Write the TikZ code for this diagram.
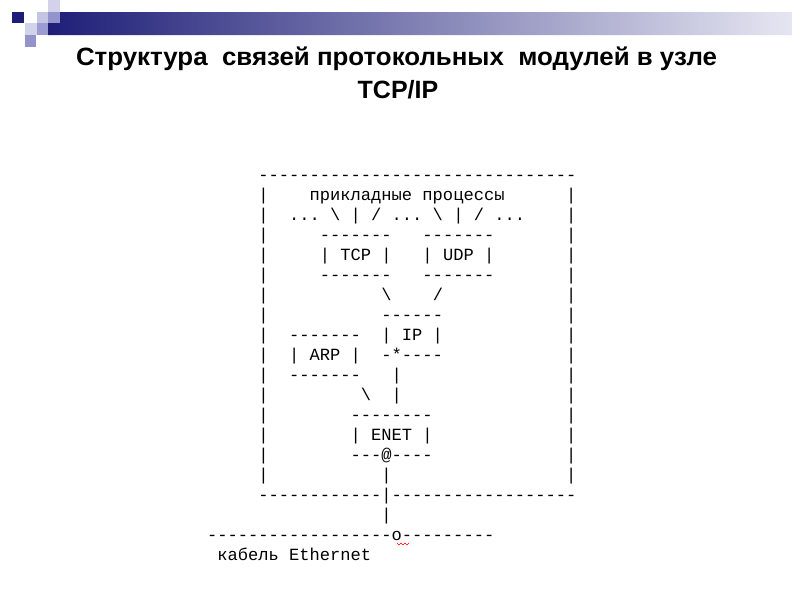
\documentclass[tikz,border=0pt]{standalone}
\usepackage{fontspec}
\usepackage{graphicx}
\setmainfont{Liberation Sans}
\setmonofont{Liberation Mono}
\definecolor{navy}{HTML}{1E1E78}
\definecolor{barM}{HTML}{5A5AA8}
\definecolor{barR}{HTML}{E6E6F2}
\definecolor{sqA}{HTML}{D2D2EA}
\definecolor{sqB}{HTML}{C4C4E4}
\definecolor{sqC}{HTML}{9C9CD2}
\definecolor{sqD}{HTML}{9494CC}
\newsavebox\titlebox
\begin{document}
\sbox\titlebox{\bfseries\fontsize{25}{30}\selectfont Структура\ \ связей протокольных\ \ модулей в узле}%
\pgfmathsetmacro\tsx{641/\the\wd\titlebox}%
\begin{tikzpicture}[x=1pt,y=-1pt,
  ascii/.style={anchor=base west, inner sep=0pt, outer sep=0pt,
    font=\ttfamily\fontsize{17.1}{20}\selectfont},
  ttl/.style={anchor=base, inner sep=0pt, outer sep=0pt,
    font=\bfseries\fontsize{25}{30}\selectfont}]
\fill[white] (0,0) rectangle (800,600);
\useasboundingbox (0,0) rectangle (800,600);
% decoration top-left
\shade[left color=navy, middle color=barM, right color=barR]
  (60,12) -- (792,12) -- (792,35) -- (48,35) -- (48,23) -- (60,23) -- cycle;
\fill[navy] (12,12) rectangle (24,23);
\fill[sqA] (48,0) rectangle (60,12);
\fill[sqB] (37,12) rectangle (48,23);
\fill[sqD] (48,12) rectangle (60,23);
\fill[sqA] (25,23) rectangle (37,35);
\fill[sqC] (37,23) rectangle (48,35);
\fill[sqD] (25,35) rectangle (36,47);
% title
\node[ttl] (title1) at (396.5,65) {\scalebox{\tsx}[1]{\usebox\titlebox}};
\node[ttl] (title2) at (398,98) {TCP/IP};
% ascii diagram
\node[ascii] (r0)  at (207,180) {~~~~~-------------------------------};
\node[ascii] (r1)  at (207,200) {~~~~~|~~~~прикладные~процессы~~~~~~|};
\node[ascii] (r2)  at (207,220) {~~~~~|~~...~\textbackslash~|~/~...~\textbackslash~|~/~...~~~~|};
\node[ascii] (r3)  at (207,240) {~~~~~|~~~~~-------~~~-------~~~~~~~|};
\node[ascii] (r4)  at (207,260) {~~~~~|~~~~~|~TCP~|~~~|~UDP~|~~~~~~~|};
\node[ascii] (r5)  at (207,280) {~~~~~|~~~~~-------~~~-------~~~~~~~|};
\node[ascii] (r6)  at (207,300) {~~~~~|~~~~~~~~~~~\textbackslash~~~~/~~~~~~~~~~~~|};
\node[ascii] (r7)  at (207,320) {~~~~~|~~~~~~~~~~~------~~~~~~~~~~~~|};
\node[ascii] (r8)  at (207,340) {~~~~~|~~-------~~|~IP~|~~~~~~~~~~~~|};
\node[ascii] (r9)  at (207,360) {~~~~~|~~|~ARP~|~~-*----~~~~~~~~~~~~|};
\node[ascii] (r10) at (207,380) {~~~~~|~~-------~~~|~~~~~~~~~~~~~~~~|};
\node[ascii] (r11) at (207,400) {~~~~~|~~~~~~~~~\textbackslash~~|~~~~~~~~~~~~~~~~|};
\node[ascii] (r12) at (207,420) {~~~~~|~~~~~~~~--------~~~~~~~~~~~~~|};
\node[ascii] (r13) at (207,440) {~~~~~|~~~~~~~~|~ENET~|~~~~~~~~~~~~~|};
\node[ascii] (r14) at (207,460) {~~~~~|~~~~~~~~---@----~~~~~~~~~~~~~|};
\node[ascii] (r15) at (207,480) {~~~~~|~~~~~~~~~~~|~~~~~~~~~~~~~~~~~|};
\node[ascii] (r16) at (207,500) {~~~~~------------|------------------};
\node[ascii] (r17) at (207,520) {~~~~~~~~~~~~~~~~~|};
\node[ascii] (r18) at (207,540) {------------------o---------};
\node[ascii] (r19) at (207,560) {~кабель~Ethernet};
% spell-check squiggle under the o
\draw[red, line width=0.6pt] (397,543) -- (399,545) -- (401,543) -- (403,545)
  -- (405,543) -- (407,545) -- (409,543);
\end{tikzpicture}
\end{document}
